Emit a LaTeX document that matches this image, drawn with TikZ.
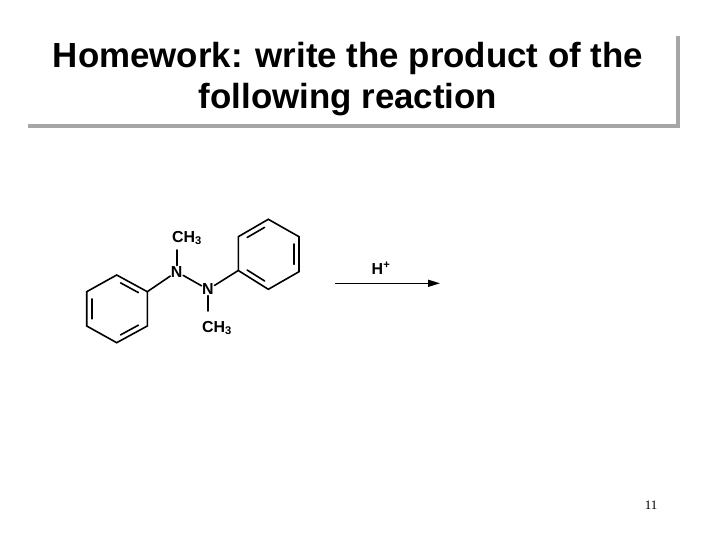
\documentclass[tikz,border=0pt]{standalone}
\usepackage{fontspec}
\setmainfont{Liberation Sans}
\newfontfamily\serifnum{Liberation Serif}
\usetikzlibrary{calc,arrows.meta}
\begin{document}
\begin{tikzpicture}[x=1bp,y=-1bp,
  bond/.style={line width=1.6bp, line cap=round},
  atom/.style={font=\fontsize{16}{16}\selectfont\bfseries, inner sep=0.5bp},
  lbl/.style={font=\fontsize{35}{42}\selectfont\bfseries, align=center}]
\useasboundingbox (0,0) rectangle (720,540);
\fill[white] (0,0) rectangle (720,540);
% title box
\fill[gray!70] (28,36) rectangle (680,128);
\fill[white] (24,32) rectangle (676,124);
\node[lbl] (title) at (348,79) {Homework: write the product of the\\following reaction};
% left ring
\coordinate (a1) at (147.3,291.7);
\coordinate (a2) at (116.7,275);
\coordinate (a3) at (86.7,291.7);
\coordinate (a4) at (86.7,326);
\coordinate (a5) at (116.7,342.7);
\coordinate (a6) at (147.3,326);
\coordinate (ac) at (117,309);
\draw[bond] (a1)--(a2)--(a3)--(a4)--(a5)--(a6)--cycle;
\draw[bond] ($(a1)!0.15!(a2)!0.17!(ac)$) -- ($(a2)!0.15!(a1)!0.17!(ac)$);
\draw[bond] ($(a3)!0.15!(a4)!0.17!(ac)$) -- ($(a4)!0.15!(a3)!0.17!(ac)$);
\draw[bond] ($(a5)!0.15!(a6)!0.17!(ac)$) -- ($(a6)!0.15!(a5)!0.17!(ac)$);
% right ring
\coordinate (b1) at (238.3,270.5);
\coordinate (b2) at (238.3,236.7);
\coordinate (b3) at (268.3,219.3);
\coordinate (b4) at (299,236.7);
\coordinate (b5) at (299,271.7);
\coordinate (b6) at (268.3,289.3);
\coordinate (bc) at (268.5,254);
\draw[bond] (b1)--(b2)--(b3)--(b4)--(b5)--(b6)--cycle;
\draw[bond] ($(b2)!0.15!(b3)!0.17!(bc)$) -- ($(b3)!0.15!(b2)!0.17!(bc)$);
\draw[bond] ($(b4)!0.15!(b5)!0.17!(bc)$) -- ($(b5)!0.15!(b4)!0.17!(bc)$);
\draw[bond] ($(b6)!0.15!(b1)!0.17!(bc)$) -- ($(b1)!0.15!(b6)!0.17!(bc)$);
% atoms
\node[atom] (n1) at (176.7,271.7) {N};
\node[atom] (n2) at (208,289.5) {N};
\node[atom] (m1) at (187,238) {CH\textsubscript{3}};
\node[atom] (m2) at (217,328) {CH\textsubscript{3}};
\coordinate (m1b) at (176.7,250);
\coordinate (m2b) at (208,311);
\draw[bond] (a1) -- (n1);
\draw[bond] (n1) -- (n2);
\draw[bond] (n2) -- (b1);
\draw[bond] (n1) -- (m1b);
\draw[bond] (n2) -- (m2b);
% arrow
\coordinate (r1) at (335,283.3);
\coordinate (r2) at (440,283.3);
\draw[line width=1.6bp, -{Triangle[length=12bp,width=7bp]}] (r1) -- (r2);
\node[atom] (hp) at (381,268) {H\textsuperscript{+}};
\node[font=\serifnum\fontsize{13}{13}\selectfont] (pg) at (651,505) {11};
\end{tikzpicture}
\end{document}
